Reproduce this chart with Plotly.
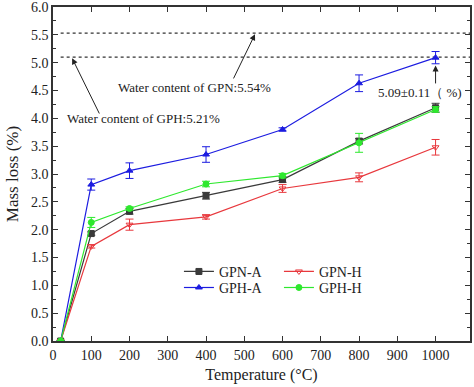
import plotly.graph_objects as go

temperature = [20, 100, 200, 400, 600, 800, 1000]

gpn_a = [0, 1.93, 2.33, 2.61, 2.90, 3.59, 4.19]
gpn_a_err = [0, 0.03, 0.05, 0.06, 0.05, 0.05, 0.08]
gpn_h = [0, 1.70, 2.09, 2.23, 2.74, 2.94, 3.48]
gpn_h_err = [0, 0.03, 0.10, 0.04, 0.07, 0.08, 0.14]
gph_a = [0, 2.81, 3.06, 3.35, 3.80, 4.63, 5.09]
gph_a_err = [0, 0.10, 0.14, 0.14, 0.03, 0.15, 0.11]
gph_h = [0, 2.13, 2.38, 2.82, 2.97, 3.56, 4.16]
gph_h_err = [0, 0.09, 0.03, 0.05, 0.04, 0.17, 0.05]

water_gpn = 5.53
water_gph = 5.10
ref_x = [20, 1090]

x_ticks = [0, 100, 200, 300, 400, 500, 600, 700, 800, 900, 1000]
y_ticks = [0.0, 0.5, 1.0, 1.5, 2.0, 2.5, 3.0, 3.5, 4.0, 4.5, 5.0, 5.5, 6.0]

FONT = "Liberation Serif, Times New Roman, serif"

fig = go.Figure()

def add_series(name, y, err, color, symbol, legend):
    fig.add_trace(go.Scatter(
        x=temperature, y=y, name=name, mode="lines+markers",
        line=dict(color=color, width=1.2),
        marker=dict(symbol=symbol, size=6, color=color, line=dict(color=color, width=1)),
        error_y=dict(type="data", array=err, visible=True, color=color, thickness=1, width=4),
        legend=legend,
    ))

for yv in (water_gpn, water_gph):
    fig.add_trace(go.Scatter(x=ref_x, y=[yv, yv], mode="lines",
                             line=dict(color="#333333", width=1.3, dash="dot"),
                             showlegend=False, hoverinfo="skip"))

add_series("GPN-A", gpn_a, gpn_a_err, "#3a3a3a", "square", "legend")
add_series("GPN-H", gpn_h, gpn_h_err, "#e8383d", "triangle-down-open", "legend")
add_series("GPH-A", gph_a, gph_a_err, "#1c1ce0", "triangle-up", "legend2")
add_series("GPH-H", gph_h, gph_h_err, "#2ee82e", "circle", "legend2")

axis_common = dict(
    showline=True, linecolor="#333333", linewidth=1.5, mirror="ticks",
    ticks="inside", tickcolor="#333333", ticklen=5, tickwidth=1.2,
    showgrid=False, zeroline=False, automargin=False, ticklabeloverflow="allow",
    tickfont=dict(family=FONT, size=14, color="#222222"),
)

fig.update_layout(
    width=474, height=387,
    margin=dict(l=53, r=4, t=7, b=46),
    paper_bgcolor="white", plot_bgcolor="white",
    font=dict(family=FONT, color="#222222"),
    xaxis=dict(range=[0, 1090], tickvals=x_ticks,
               title=dict(text="Temperature (°C)", font=dict(family=FONT, size=16), standoff=7),
               **axis_common),
    yaxis=dict(range=[0, 6.0], tickvals=y_ticks, ticktext=[f"{v:.1f}" for v in y_ticks],
               minor=dict(ticks="inside", dtick=0.25, ticklen=3, tickcolor="#333333"),
               title=dict(text="Mass loss (%)", font=dict(family=FONT, size=17), standoff=8),
               **axis_common),
    legend=dict(orientation="h", x=0.302, y=0.207, xanchor="left", yanchor="middle",
                font=dict(family=FONT, size=14), itemwidth=30, entrywidth=55,
                bgcolor="rgba(0,0,0,0)", tracegroupgap=0),
    legend2=dict(orientation="h", x=0.302, y=0.159, xanchor="left", yanchor="middle",
                 font=dict(family=FONT, size=14), itemwidth=30, entrywidth=55,
                 bgcolor="rgba(0,0,0,0)", tracegroupgap=0),
    showlegend=True,
)

arrows = [
    (528, 5.51, 470, 4.69),
    (50, 5.08, 123, 4.06),
    (1000, 4.95, 1000, 4.60),
]
for x, y, ax, ay in arrows:
    fig.add_annotation(x=x, y=y, ax=ax, ay=ay, xref="x", yref="y", axref="x", ayref="y",
                       text="", showarrow=True, arrowhead=2, arrowsize=1.2, arrowwidth=1,
                       arrowcolor="#222222")

texts = [
    (369, 4.56, "Water content of GPN:5.54%"),
    (237, 3.99, "Water content of GPH:5.21%"),
    (958, 4.47, "5.09±0.11（ %)"),
]
for x, y, t in texts:
    fig.add_annotation(x=x, y=y, xref="x", yref="y", text=t, showarrow=False,
                       font=dict(family=FONT, size=13, color="#222222"))

fig.write_html("out.html", config={"displayModeBar": False},
               post_script="document.body.style.margin='0';")
